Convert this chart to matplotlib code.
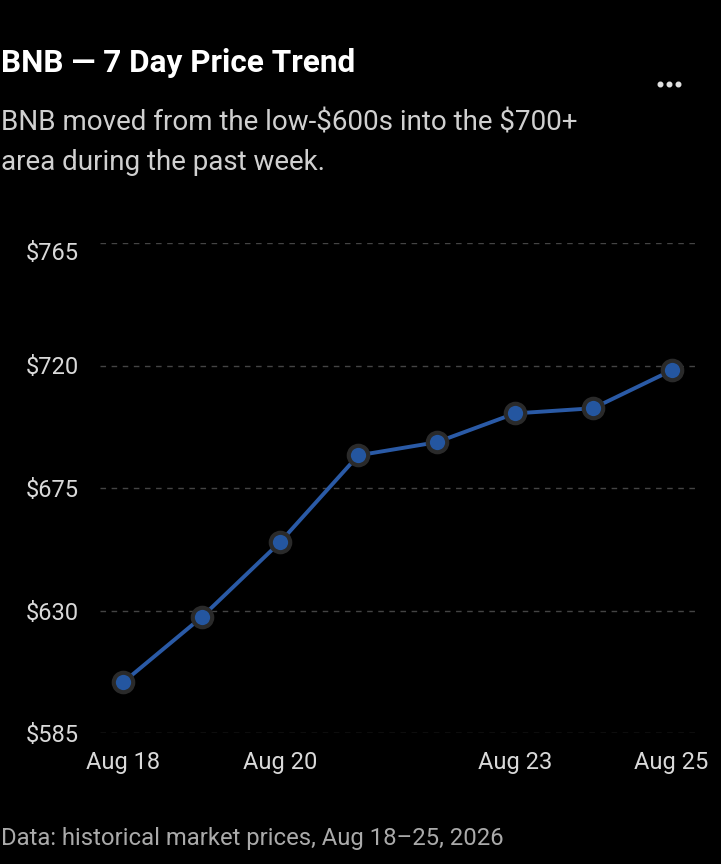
import matplotlib
matplotlib.use("Agg")
import matplotlib.pyplot as plt
from matplotlib.lines import Line2D
from matplotlib.transforms import ScaledTranslation

dates = ["Aug 18", "Aug 19", "Aug 20", "Aug 21", "Aug 22", "Aug 23", "Aug 24", "Aug 25"]
prices = [603.7, 627.6, 655.1, 687.0, 691.8, 702.4, 704.3, 718.2]
yticks = [585, 630, 675, 720, 765]
xtick_idx = [0, 2, 5, 7]

plt.rcParams['font.family'] = ['Roboto', 'DejaVu Sans']

fig = plt.figure(figsize=(7.21, 8.64), dpi=100, facecolor="black")
ax = fig.add_axes([100/721, 1-733/864, 595/721, (733-243)/864])
ax.set_facecolor("black")

x = list(range(len(dates)))
ax.plot(x, prices, color="#2a5aa6", lw=2.8, zorder=3,
        marker="o", markersize=14, markerfacecolor="#2456a0",
        markeredgecolor="#2a2a2a", markeredgewidth=3)

ax.set_xlim(-0.3, 7.3)
ax.set_ylim(585, 765)
ax.set_yticks(yticks)
ax.set_yticklabels([f"\\${v}" for v in yticks])
ax.set_xticks(xtick_idx)
ax.set_xticklabels([dates[i] for i in xtick_idx])
ax.tick_params(axis="both", length=0, colors="#d9d9d9", labelsize=17)
ax.tick_params(axis="y", pad=15)
ax.tick_params(axis="x", pad=13)
ax.grid(axis="y", color="#444444", linestyle=(0, (4, 4)), lw=1)
ax.grid(axis="x", visible=False)
for s in ax.spines.values():
    s.set_visible(False)

top_lbl = ax.get_yticklabels()[-1]
top_lbl.set_transform(top_lbl.get_transform() +
                      ScaledTranslation(0, -0.08, fig.dpi_scale_trans))

fig.text(1/721, 1-63/864, "BNB — 7 Day Price Trend", color="white",
         fontsize=22.7, fontweight="bold", va="center", ha="left")
fig.text(1/721, 1-143/864,
         "BNB moved from the low-\\$600s into the \\$700+\narea during the past week.",
         color="#d0d0d0", fontsize=20, va="center", ha="left", linespacing=1.6)
fig.add_artist(Line2D([660/721, 669/721, 678/721], [1-84/864]*3, ls="none",
                      marker="o", markersize=3.3, color="#e0e0e0",
                      transform=fig.transFigure))
fig.text(1/721, 1-838/864, "Data: historical market prices, Aug 18–25, 2026",
         color="#aaaaaa", fontsize=17.2, va="center", ha="left")

fig.savefig("out.png", dpi=100, facecolor="black")
